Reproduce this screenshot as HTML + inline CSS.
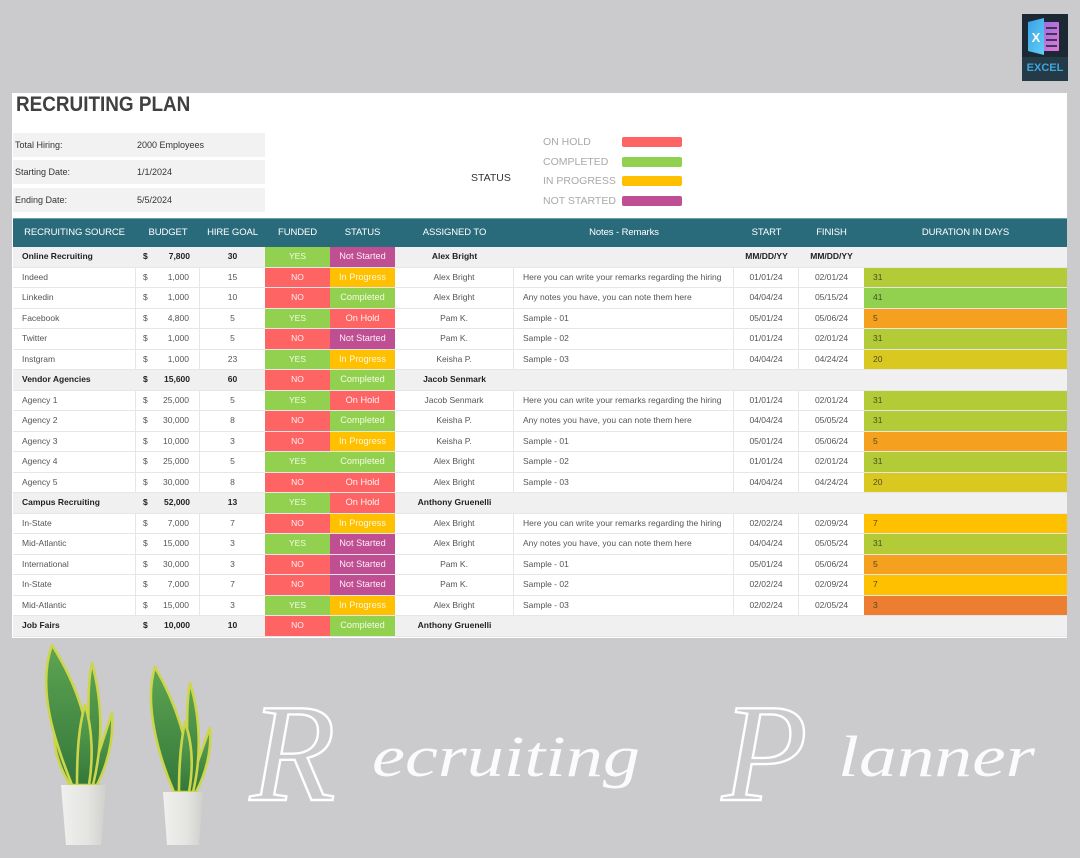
<!DOCTYPE html>
<html>
<head>
<meta charset="utf-8">
<style>
*{margin:0;padding:0}
html,body{width:1080px;height:858px;overflow:hidden}
body{position:relative;background:#cbcbcd;font-family:"Liberation Sans",Arial,sans-serif}
.abs{position:absolute}
#panel{left:12px;top:93px;width:1055px;height:545px;background:#fff}
#title{left:16px;top:94px;font-size:21px;line-height:21px;font-weight:bold;color:#404040;transform:scaleX(0.9);transform-origin:0 0;white-space:nowrap}
.info{left:13px;width:252px;height:24px;background:#f2f2f2;font-size:9px;line-height:24px;color:#333}
.info span{position:absolute;left:2px}
.info span+span{left:124px}
.lg{left:543px;font-size:10.5px;line-height:12px;color:#a9a9a9;white-space:nowrap}
.sw{left:622px;width:60px;height:10px;border-radius:2px}
#status{left:471px;top:171px;font-size:10.5px;line-height:14px;color:#333}
#hdr{left:13px;top:218px;width:1054px;height:29px;background:#2a6b7b;border-top:1px solid #6aa3b0;box-sizing:border-box;display:flex}
#hdr div{color:#fff;font-size:9.5px;line-height:28px;text-align:center;white-space:nowrap;letter-spacing:-0.1px}
#rows{left:13px;top:247px;width:1054px}
.r{display:flex;height:20.5px}
.r>div{box-sizing:border-box;height:100%;border-bottom:1px solid #e6e6e6;line-height:19.5px;white-space:nowrap;overflow:hidden;font-size:8.5px;color:#555;text-align:center}
.w1{width:123px;flex:none}.w2{width:64px;flex:none}.w3{width:65px;flex:none}.w4{width:65px;flex:none}.w5{width:65px;flex:none}
.w6{width:119px;flex:none}.w7{width:220px;flex:none}.w8{width:65px;flex:none}.w9{width:65px;flex:none}.w10{width:203px;flex:none}
.r>div:nth-child(1){width:123px;flex:none;text-align:left;padding-left:9px}
.r>div:nth-child(2){width:64px;flex:none;display:flex;justify-content:space-between;padding:0 10px 0 7px}
.r>div:nth-child(3){width:65px;flex:none}
.r>div:nth-child(4){width:65px;flex:none}
.r>div:nth-child(5){width:65px;flex:none;font-size:9.2px}
.r>div:nth-child(6){width:119px;flex:none}
.r>div:nth-child(7){width:220px;flex:none;text-align:left;padding-left:9px}
.r>div:nth-child(8){width:65px;flex:none}
.r>div:nth-child(9){width:65px;flex:none}
.r>div:nth-child(10){width:203px;flex:none;text-align:left;padding-left:9px;color:#4d4d22}
.r:not(.g)>div:nth-child(1),.r:not(.g)>div:nth-child(2),.r:not(.g)>div:nth-child(6),.r:not(.g)>div:nth-child(7),.r:not(.g)>div:nth-child(8){border-right:1px solid #e6e6e6}
.g>div{background:#f0f0f0;font-weight:bold;color:#222}
.r>div.y{background:#92d050;color:#f3fbe6;font-weight:normal}
.r>div.n{background:#ff6464;color:#fff3f3;font-weight:normal}
.r>div.ns{background:#bf4f92;color:#fbeef6;font-weight:normal}
.r>div.ip{background:#ffc000;color:#fff7dc;font-weight:normal}
.r>div.cp{background:#92d050;color:#f3fbe6;font-weight:normal}
.r>div.oh{background:#ff6464;color:#fff3f3;font-weight:normal}
.r>div.d31{background:#b2cb36}
.r>div.d41{background:#92d050}
.r>div.d5{background:#f5a01f}
.r>div.d20{background:#d8c81f}
.r>div.d7{background:#ffc000}
.r>div.d3{background:#ed7d31}
#xl{left:1022px;top:14px;width:46px;height:67px;background:#1c2934}
#xlb{left:1022px;top:57px;width:46px;height:24px;background:#253a47;color:#3ea6df;font-weight:bold;font-size:11px;line-height:22px;text-align:center}
</style>
</head>
<body>
<div id="panel" class="abs"></div>
<div id="title" class="abs">RECRUITING PLAN</div>

<div class="info abs" style="top:133px"><span>Total Hiring:</span><span>2000 Employees</span></div>
<div class="info abs" style="top:160px"><span>Starting Date:</span><span>1/1/2024</span></div>
<div class="info abs" style="top:188px"><span>Ending Date:</span><span>5/5/2024</span></div>

<div id="status" class="abs">STATUS</div>
<div class="lg abs" style="top:136px">ON HOLD</div>
<div class="lg abs" style="top:156px">COMPLETED</div>
<div class="lg abs" style="top:175px">IN PROGRESS</div>
<div class="lg abs" style="top:195px">NOT STARTED</div>
<div class="sw abs" style="top:137px;background:#ff6464"></div>
<div class="sw abs" style="top:157px;background:#92d050"></div>
<div class="sw abs" style="top:176px;background:#ffc000"></div>
<div class="sw abs" style="top:196px;background:#bf4f92"></div>

<div id="hdr" class="abs">
<div class="w1">RECRUITING SOURCE</div><div class="w2">BUDGET</div><div class="w3">HIRE GOAL</div><div class="w4">FUNDED</div><div class="w5">STATUS</div><div class="w6">ASSIGNED TO</div><div class="w7">Notes - Remarks</div><div class="w8">START</div><div class="w9">FINISH</div><div class="w10">DURATION IN DAYS</div>
</div>

<div id="rows" class="abs">
<div class="r g"><div>Online Recruiting</div><div><span>$</span><span>7,800</span></div><div>30</div><div class="y">YES</div><div class="ns">Not Started</div><div>Alex Bright</div><div></div><div>MM/DD/YY</div><div>MM/DD/YY</div><div></div></div>
<div class="r"><div>Indeed</div><div><span>$</span><span>1,000</span></div><div>15</div><div class="n">NO</div><div class="ip">In Progress</div><div>Alex Bright</div><div>Here you can write your remarks regarding the hiring</div><div>01/01/24</div><div>02/01/24</div><div class="d31">31</div></div>
<div class="r"><div>Linkedin</div><div><span>$</span><span>1,000</span></div><div>10</div><div class="n">NO</div><div class="cp">Completed</div><div>Alex Bright</div><div>Any notes you have, you can note them here</div><div>04/04/24</div><div>05/15/24</div><div class="d41">41</div></div>
<div class="r"><div>Facebook</div><div><span>$</span><span>4,800</span></div><div>5</div><div class="y">YES</div><div class="oh">On Hold</div><div>Pam K.</div><div>Sample - 01</div><div>05/01/24</div><div>05/06/24</div><div class="d5">5</div></div>
<div class="r"><div>Twitter</div><div><span>$</span><span>1,000</span></div><div>5</div><div class="n">NO</div><div class="ns">Not Started</div><div>Pam K.</div><div>Sample - 02</div><div>01/01/24</div><div>02/01/24</div><div class="d31">31</div></div>
<div class="r"><div>Instgram</div><div><span>$</span><span>1,000</span></div><div>23</div><div class="y">YES</div><div class="ip">In Progress</div><div>Keisha P.</div><div>Sample - 03</div><div>04/04/24</div><div>04/24/24</div><div class="d20">20</div></div>
<div class="r g"><div>Vendor Agencies</div><div><span>$</span><span>15,600</span></div><div>60</div><div class="n">NO</div><div class="cp">Completed</div><div>Jacob Senmark</div><div></div><div></div><div></div><div></div></div>
<div class="r"><div>Agency 1</div><div><span>$</span><span>25,000</span></div><div>5</div><div class="y">YES</div><div class="oh">On Hold</div><div>Jacob Senmark</div><div>Here you can write your remarks regarding the hiring</div><div>01/01/24</div><div>02/01/24</div><div class="d31">31</div></div>
<div class="r"><div>Agency 2</div><div><span>$</span><span>30,000</span></div><div>8</div><div class="n">NO</div><div class="cp">Completed</div><div>Keisha P.</div><div>Any notes you have, you can note them here</div><div>04/04/24</div><div>05/05/24</div><div class="d31">31</div></div>
<div class="r"><div>Agency 3</div><div><span>$</span><span>10,000</span></div><div>3</div><div class="n">NO</div><div class="ip">In Progress</div><div>Keisha P.</div><div>Sample - 01</div><div>05/01/24</div><div>05/06/24</div><div class="d5">5</div></div>
<div class="r"><div>Agency 4</div><div><span>$</span><span>25,000</span></div><div>5</div><div class="y">YES</div><div class="cp">Completed</div><div>Alex Bright</div><div>Sample - 02</div><div>01/01/24</div><div>02/01/24</div><div class="d31">31</div></div>
<div class="r"><div>Agency 5</div><div><span>$</span><span>30,000</span></div><div>8</div><div class="n">NO</div><div class="oh">On Hold</div><div>Alex Bright</div><div>Sample - 03</div><div>04/04/24</div><div>04/24/24</div><div class="d20">20</div></div>
<div class="r g"><div>Campus Recruiting</div><div><span>$</span><span>52,000</span></div><div>13</div><div class="y">YES</div><div class="oh">On Hold</div><div>Anthony Gruenelli</div><div></div><div></div><div></div><div></div></div>
<div class="r"><div>In-State</div><div><span>$</span><span>7,000</span></div><div>7</div><div class="n">NO</div><div class="ip">In Progress</div><div>Alex Bright</div><div>Here you can write your remarks regarding the hiring</div><div>02/02/24</div><div>02/09/24</div><div class="d7">7</div></div>
<div class="r"><div>Mid-Atlantic</div><div><span>$</span><span>15,000</span></div><div>3</div><div class="y">YES</div><div class="ns">Not Started</div><div>Alex Bright</div><div>Any notes you have, you can note them here</div><div>04/04/24</div><div>05/05/24</div><div class="d31">31</div></div>
<div class="r"><div>International</div><div><span>$</span><span>30,000</span></div><div>3</div><div class="n">NO</div><div class="ns">Not Started</div><div>Pam K.</div><div>Sample - 01</div><div>05/01/24</div><div>05/06/24</div><div class="d5">5</div></div>
<div class="r"><div>In-State</div><div><span>$</span><span>7,000</span></div><div>7</div><div class="n">NO</div><div class="ns">Not Started</div><div>Pam K.</div><div>Sample - 02</div><div>02/02/24</div><div>02/09/24</div><div class="d7">7</div></div>
<div class="r"><div>Mid-Atlantic</div><div><span>$</span><span>15,000</span></div><div>3</div><div class="y">YES</div><div class="ip">In Progress</div><div>Alex Bright</div><div>Sample - 03</div><div>02/02/24</div><div>02/05/24</div><div class="d3">3</div></div>
<div class="r g"><div>Job Fairs</div><div><span>$</span><span>10,000</span></div><div>10</div><div class="n">NO</div><div class="cp">Completed</div><div>Anthony Gruenelli</div><div></div><div></div><div></div><div></div></div>
</div>

<div id="xl" class="abs"></div>
<div id="xlb" class="abs">EXCEL</div>
<svg class="abs" style="left:0;top:0" width="1080" height="858" viewBox="0 0 1080 858">
<defs>
<linearGradient id="xb" x1="0" y1="0" x2="1" y2="1"><stop offset="0" stop-color="#3aa0e6"/><stop offset="1" stop-color="#5fd0f6"/></linearGradient>
<linearGradient id="xp" x1="0" y1="0" x2="1" y2="1"><stop offset="0" stop-color="#9b6ae0"/><stop offset="1" stop-color="#e07ad8"/></linearGradient>
<linearGradient id="lf" x1="0" y1="0" x2="0" y2="1"><stop offset="0" stop-color="#5ea552"/><stop offset="1" stop-color="#33773a"/></linearGradient>
<linearGradient id="pt" x1="0" y1="0" x2="1" y2="0"><stop offset="0" stop-color="#f0f0ee"/><stop offset="0.6" stop-color="#e4e4e1"/><stop offset="1" stop-color="#cfcfcc"/></linearGradient>
</defs>
<!-- excel icon -->
<rect x="1040" y="22" width="19" height="29" rx="1" fill="url(#xp)"/>
<g stroke="#1c2934" stroke-width="1.6"><line x1="1046" y1="28" x2="1057" y2="28"/><line x1="1046" y1="34" x2="1057" y2="34"/><line x1="1046" y1="40" x2="1057" y2="40"/><line x1="1046" y1="46" x2="1057" y2="46"/></g>
<path d="M1028 22 L1044 18 L1044 55 L1028 51 Z" fill="url(#xb)"/>
<text x="1036" y="42" font-family="Liberation Sans" font-weight="bold" font-size="13" fill="#fff" text-anchor="middle">X</text>
<!-- plant 1 -->
<g fill="url(#lf)" stroke="#cdd64a" stroke-width="2.6" stroke-linejoin="round">
<path d="M70 785 C 58 765, 52 745, 55 725 C 70 740, 82 760, 83 785 Z"/>
<path d="M86 785 C 98 760, 104 735, 112 713 C 114 740, 107 765, 97 785 Z"/>
<path d="M81 785 C 94 740, 84 700, 92 663 C 102 700, 104 740, 93 785 Z"/>
<path d="M72 785 C 56 745, 36 690, 52 645 C 74 680, 94 725, 89 785 Z"/>
<path d="M77 785 C 77 750, 79 725, 85 705 C 93 730, 93 760, 89 785 Z"/>
</g>
<path d="M61 785 L106 785 L101 845 L66 845 Z" fill="url(#pt)"/>
<!-- plant 2 -->
<g fill="url(#lf)" stroke="#cdd64a" stroke-width="2.6" stroke-linejoin="round">
<path d="M176 792 C 164 770, 160 745, 163 720 C 177 740, 185 765, 187 792 Z"/>
<path d="M186 792 C 196 770, 202 748, 210 728 C 212 752, 205 775, 196 792 Z"/>
<path d="M181 792 C 191 750, 184 715, 190 683 C 200 715, 202 755, 193 792 Z"/>
<path d="M174 792 C 160 760, 143 705, 155 667 C 174 700, 192 745, 189 792 Z"/>
<path d="M179 792 C 179 760, 181 740, 185 722 C 193 745, 193 770, 189 792 Z"/>
</g>
<path d="M163 792 L203 792 L199 845 L167 845 Z" fill="url(#pt)"/>
<!-- script title -->
<g font-family="Liberation Serif" font-style="italic">
<text x="250" y="800" font-size="140" fill="none" stroke="#fff" stroke-width="2.4">R</text>
<text x="372" y="776" font-size="58" fill="#fff" fill-opacity="0.92" textLength="268" lengthAdjust="spacingAndGlyphs">ecruiting</text>
<text x="722" y="800" font-size="140" fill="none" stroke="#fff" stroke-width="2.4">P</text>
<text x="838" y="776" font-size="58" fill="#fff" fill-opacity="0.92" textLength="197" lengthAdjust="spacingAndGlyphs">lanner</text>
</g>
</svg>
</body>
</html>
